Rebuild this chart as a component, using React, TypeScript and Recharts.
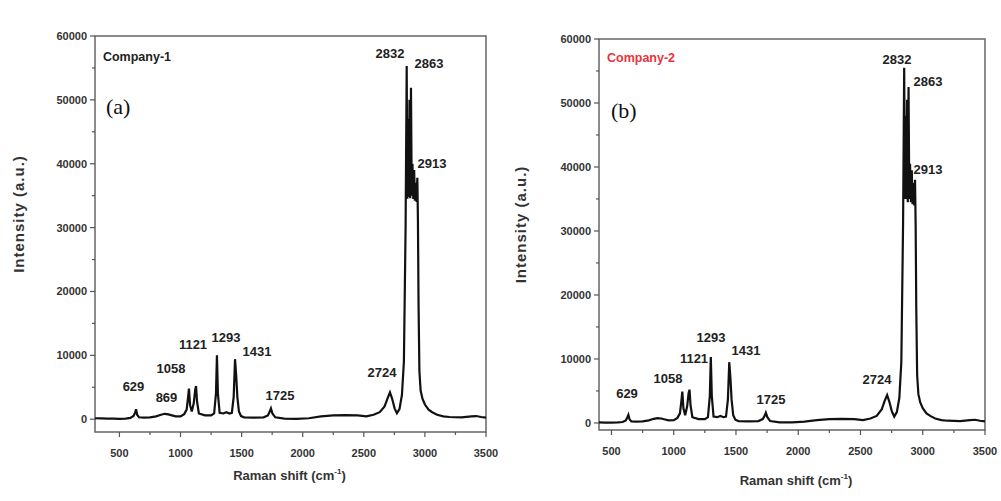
import { LineChart, Line, XAxis, YAxis, ReferenceArea, ReferenceDot } from 'recharts';

// Raman shift (cm-1), shared by both spectra
const shift = [
  300, 350, 400, 450, 500, 550, 590, 615, 628, 636,
  645, 660, 700, 750, 800, 840, 870, 900, 930, 960,
  1000, 1030, 1050, 1062, 1069, 1078, 1092, 1108, 1120, 1127,
  1135, 1150, 1200, 1250, 1275, 1290, 1298, 1306, 1320, 1350,
  1375, 1400, 1420, 1435, 1446, 1455, 1465, 1478, 1495, 1520,
  1600, 1680, 1715, 1730, 1740, 1752, 1775, 1850, 1950, 2050,
  2150, 2250, 2350, 2450, 2520, 2580, 2630, 2670, 2695, 2714,
  2732, 2752, 2771, 2792, 2812, 2828, 2842, 2851, 2856, 2862,
  2868, 2874, 2880, 2886, 2892, 2898, 2905, 2912, 2918, 2925,
  2932, 2938, 2943, 2948, 2955, 2965, 2980, 3000, 3030, 3060,
  3100, 3150, 3200, 3300, 3380, 3420, 3460, 3500,
];

const company1 = [
  150, 120, 100, 80, 60, 100, 200, 500, 1000, 1560,
  700, 300, 250, 300, 450, 700, 850, 750, 600, 450,
  450, 800, 1500, 3500, 4800, 2200, 1200, 2500, 4600, 5200,
  2800, 900, 600, 600, 900, 4000, 10000, 4000, 1000, 900,
  1100, 900, 1000, 3500, 9400, 7000, 3500, 1200, 500, 300,
  250, 300, 600, 1200, 1700, 900, 300, 100, 50, 150,
  450, 600, 650, 600, 450, 700, 1100, 2000, 3300, 4200,
  3200, 1700, 950, 1600, 3800, 9000, 30000, 55300, 34500, 47000,
  34800, 50000, 34600, 51900, 35000, 40000, 34500, 39000, 34200, 37000,
  34000, 37800, 31000, 18000, 7500, 4500, 3200, 2300, 1500, 1100,
  700, 450, 350, 300, 450, 500, 350, 250,
];

const company2 = [
  100, 100, 80, 60, 50, 80, 150, 400, 900, 1270,
  600, 250, 200, 250, 400, 650, 750, 700, 550, 400,
  450, 800, 1500, 3500, 4900, 2300, 1200, 2600, 4700, 5200,
  2800, 900, 600, 600, 900, 4200, 10300, 4200, 1000, 900,
  1100, 900, 1000, 3600, 9500, 7200, 3600, 1200, 500, 300,
  250, 300, 600, 1100, 1600, 900, 300, 100, 100, 200,
  450, 600, 650, 600, 450, 700, 1100, 2100, 3500, 4350,
  3300, 1800, 1000, 1700, 3900, 9500, 31000, 55500, 35000, 48000,
  35000, 50500, 34500, 52500, 35000, 40500, 34500, 39500, 34200, 37500,
  34000, 38000, 31000, 18000, 7500, 4500, 3200, 2300, 1500, 1100,
  700, 450, 350, 300, 450, 500, 350, 250,
];

const xTicks = [500, 750, 1000, 1250, 1500, 1750, 2000, 2250, 2500, 2750, 3000, 3250, 3500];
const yTicks = [0, 5000, 10000, 15000, 20000, 25000, 30000, 35000, 40000, 45000, 50000, 55000, 60000];

// peak labels: text and where its centre sits, in data units
const peaks1 = [
  { text: '629', x: 615, y: 5200 },
  { text: '869', x: 885, y: 3475 },
  { text: '1058', x: 922, y: 8016 },
  { text: '1121', x: 1102, y: 11774 },
  { text: '1293', x: 1372, y: 12870 },
  { text: '1431', x: 1626, y: 10678 },
  { text: '1725', x: 1814, y: 3789 },
  { text: '2724', x: 2649, y: 7390 },
  { text: '2832', x: 2714, y: 57335 },
  { text: '2863', x: 3033, y: 55770 },
  { text: '2913', x: 3058, y: 40113 },
];

const peaks2 = [
  { text: '629', x: 625, y: 4688 },
  { text: '1058', x: 954, y: 7032 },
  { text: '1121', x: 1163, y: 10157 },
  { text: '1293', x: 1299, y: 13439 },
  { text: '1431', x: 1581, y: 11407 },
  { text: '1725', x: 1781, y: 3750 },
  { text: '2724', x: 2633, y: 6875 },
  { text: '2832', x: 2793, y: 56875 },
  { text: '2863', x: 3042, y: 53440 },
  { text: '2913', x: 3042, y: 39690 },
];

const rows = shift.map((s, i) => ({ shift: s, c1: company1[i], c2: company2[i] }));

const SANS = '"Liberation Sans", Arial, sans-serif';
const SERIF = '"Liberation Serif", "Times New Roman", serif';

function XTick({ x, y, payload }: any) {
  const major = payload.value % 500 === 0;
  return (
    <g>
      <line x1={x} x2={x} y1={y} y2={y + (major ? 5 : 3)} stroke="#555" strokeWidth={1.2} />
      {major && (
        <text x={x} y={y + 25} textAnchor="middle" fontSize={11} fontWeight="bold" fontFamily={SANS} fill="#333">
          {payload.value}
        </text>
      )}
    </g>
  );
}

function YTick({ x, y, payload }: any) {
  const major = payload.value % 10000 === 0;
  return (
    <g>
      <line x1={x - (major ? 5 : 3)} x2={x} y1={y} y2={y} stroke="#555" strokeWidth={1.2} />
      {major && (
        <text x={x - 8} y={y + 4} textAnchor="end" fontSize={11} fontWeight="bold" fontFamily={SANS} fill="#333">
          {payload.value}
        </text>
      )}
    </g>
  );
}

type PanelProps = {
  dataKey: string;
  xMin: number;
  yMin: number;
  margin: { top: number; right: number; bottom: number; left: number };
  yWidth: number;
  peaks: { text: string; x: number; y: number }[];
  title: string;
  titleColor: string;
  titleAt: { x: number; y: number };
  letter: string;
  letterAt: { x: number; y: number };
  yTitleDx: number;
  yTitleDy: number;
  xTitleDx: number;
  xTitleDy: number;
};

function Panel(p: PanelProps) {
  return (
    <LineChart width={500} height={501} data={rows} margin={p.margin}>
      <XAxis
        dataKey="shift"
        type="number"
        domain={[p.xMin, 3500]}
        ticks={xTicks.filter(t => t >= p.xMin)}
        interval={0}
        allowDataOverflow
        axisLine={false}
        tickLine={false}
        tickSize={0}
        tickMargin={0}
        height={40}
        tick={<XTick />}
        label={(lp: any) => {
          const vb = lp.viewBox;
          const cx = vb.x + vb.width / 2 + p.xTitleDx;
          const cy = vb.y + p.xTitleDy;
          return (
            <text x={cx} y={cy} textAnchor="middle" fontSize={13} fontWeight="bold" fontFamily={SANS} fill="#333">
              <tspan>Raman shift (cm</tspan>
              <tspan dy={-6} fontSize={8}>-1</tspan>
              <tspan dy={6}>)</tspan>
            </text>
          );
        }}
      />
      <YAxis
        type="number"
        domain={[p.yMin, 60000]}
        ticks={yTicks}
        interval={0}
        allowDataOverflow
        axisLine={false}
        tickLine={false}
        tickSize={0}
        tickMargin={0}
        width={p.yWidth}
        tick={<YTick />}
        label={(lp: any) => {
          const vb = lp.viewBox;
          const cx = vb.x + p.yTitleDx;
          const cy = vb.y + vb.height / 2 + p.yTitleDy;
          return (
            <text
              x={cx}
              y={cy}
              transform={`rotate(-90 ${cx} ${cy})`}
              textAnchor="middle"
              dominantBaseline="central"
              fontSize={15}
              letterSpacing={1}
              fontWeight="bold"
              fontFamily={SANS}
              fill="#333"
            >
              Intensity (a.u.)
            </text>
          );
        }}
      />
      <ReferenceArea x1={p.xMin} x2={3500} y1={p.yMin} y2={60000} fill="none" stroke="#666" strokeWidth={1.5} />
      <Line type="linear" dataKey={p.dataKey} stroke="#111" strokeWidth={2.2} dot={false} isAnimationActive={false} />
      {p.peaks.map(pk => (
        <ReferenceDot
          key={pk.text}
          x={pk.x}
          y={pk.y}
          r={0}
          stroke="none"
          fill="none"
          label={{ value: pk.text, position: 'center', fontSize: 13, fontWeight: 'bold', fontFamily: SANS, fill: '#222' }}
        />
      ))}
      <ReferenceDot
        x={p.titleAt.x}
        y={p.titleAt.y}
        r={0}
        stroke="none"
        fill="none"
        label={{ value: p.title, position: 'right', offset: 0, fontSize: 12.5, fontWeight: 'bold', fontFamily: SANS, fill: p.titleColor }}
      />
      <ReferenceDot
        x={p.letterAt.x}
        y={p.letterAt.y}
        r={0}
        stroke="none"
        fill="none"
        label={{ value: p.letter, position: 'right', offset: 0, fontSize: 22, fontFamily: SERIF, fill: '#111' }}
      />
    </LineChart>
  );
}

export default function App() {
  return (
    <div style={{ position: 'absolute', left: 0, top: 0, width: 1001, height: 501, background: '#fff' }}>
      <div style={{ position: 'absolute', left: 0, top: 0 }}>
        <Panel
          dataKey="c1"
          xMin={300}
          yMin={-2000}
          margin={{ top: 36, right: 14, bottom: 29, left: 0 }}
          yWidth={95}
          peaks={peaks1}
          title="Company-1"
          titleColor="#222"
          titleAt={{ x: 365, y: 56710 }}
          letter="(a)"
          letterAt={{ x: 390, y: 49040 }}
          yTitleDx={18}
          yTitleDy={-20}
          xTitleDx={-1}
          xTitleDy={48}
        />
      </div>
      <div style={{ position: 'absolute', left: 500, top: 0 }}>
        <Panel
          dataKey="c2"
          xMin={400}
          yMin={-1100}
          margin={{ top: 39, right: 15, bottom: 31, left: 0 }}
          yWidth={99}
          peaks={peaks2}
          title="Company-2"
          titleColor="#e8333c"
          titleAt={{ x: 464, y: 57030 }}
          letter="(b)"
          letterAt={{ x: 496, y: 48900 }}
          yTitleDx={20}
          yTitleDy={-10}
          xTitleDx={4}
          xTitleDy={55}
        />
      </div>
    </div>
  );
}
